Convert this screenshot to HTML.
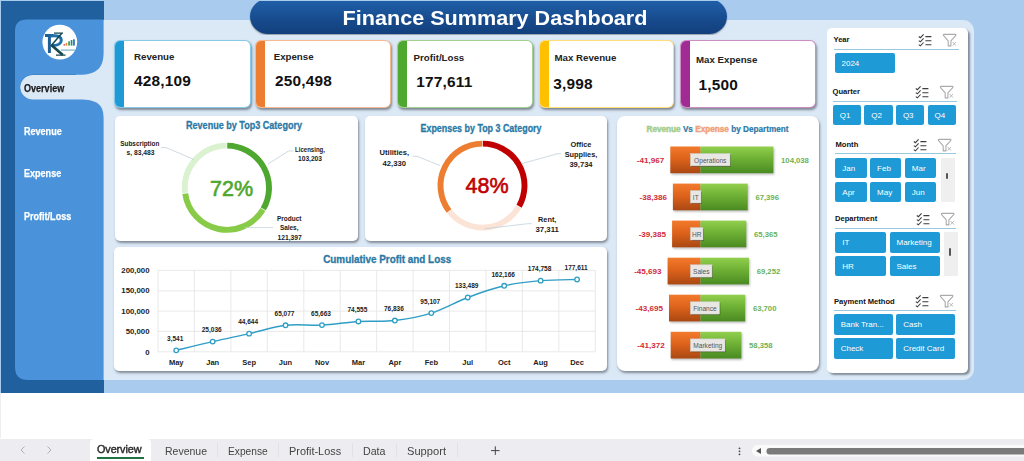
<!DOCTYPE html>
<html><head><meta charset="utf-8"><title>Finance Summary Dashboard</title>
<style>
*{box-sizing:border-box;margin:0;padding:0}
html,body{width:1024px;height:461px;overflow:hidden;background:#fff;font-family:"Liberation Sans",sans-serif;}
.abs{position:absolute}
#root{position:relative;width:1024px;height:461px;overflow:hidden;background:#fff}
.card{position:absolute;top:40px;height:68px;width:136.5px;background:#fff;border-radius:6px;border:1px solid #ccc;box-shadow:1px 2px 2.5px rgba(65,72,82,.6);overflow:hidden}
.card i{position:absolute;left:0;top:0;bottom:0;width:9px}
.card .l{position:absolute;left:19px;font-weight:bold;font-size:9.7px;color:#222;white-space:nowrap}
.card .v{position:absolute;left:19px;font-weight:bold;font-size:15.4px;color:#111;white-space:nowrap;letter-spacing:.2px}
.panel{position:absolute;background:#fff;border-radius:5px;box-shadow:1px 2px 2.5px rgba(65,72,82,.58)}
.t{position:absolute;white-space:nowrap;line-height:1}
.nav{position:absolute;left:23.5px;font-weight:bold;font-size:10.4px;color:#fff;white-space:nowrap;line-height:1;transform-origin:0 50%;transform:scaleX(.87);-webkit-text-stroke:.25px currentColor}
.sh{position:absolute;font-weight:bold;font-size:7.6px;color:#111;white-space:nowrap;line-height:1}
.sl{position:absolute;height:1.2px;background:#98c8dd}
.sb{position:absolute;background:#1e9ad6;border-radius:2px;color:#fff;font-size:8px;white-space:nowrap;line-height:1;}
.sb span{position:absolute;left:7px;top:50%;transform:translateY(-39%)}
.tab{position:absolute;top:445.6px;font-size:11.3px;color:#444;white-space:nowrap;line-height:1;transform-origin:0 50%}
</style></head><body><div id="root">

<div class="abs" style="left:0;top:0;width:1024px;height:393px;background:#a9cbee"></div>
<div class="abs" style="left:1px;top:1px;width:102.6px;height:392px;background:#20609f"></div>
<div class="abs" style="left:100px;top:19.5px;width:874px;height:360px;background:#dbe8f6;border-radius:0 11px 11px 0"></div>
<div class="abs" style="left:20px;top:74.5px;width:90px;height:25.2px;background:#dbe8f6;border-radius:13px 0 0 13px"></div>
<div class="abs" style="left:76px;top:50px;width:27.6px;height:80px;background:#dbe8f6"></div>
<svg class="abs" style="left:0;top:0" width="130" height="400" viewBox="0 0 130 400">
<defs><filter id="ss" x="-10%" y="-10%" width="130%" height="130%"><feGaussianBlur stdDeviation="1.2"/></filter></defs>
<path d="M15 31 Q15 19.5 27 19.5 L103.6 19.5 L103.6 52 C103.6 67 98 74.8 79 74.8 L32.5 74.8 A12.3 12.3 0 0 0 32.5 99.4 L79 99.4 C98 99.4 103.6 105 103.6 118 L103.6 380 L28 380 Q15 380 15 367 Z" fill="#4a92da"/>
</svg>
<svg class="abs" style="left:30px;top:15px" width="60" height="55" viewBox="30 15 60 55">
<circle cx="59.8" cy="42.1" r="17.4" fill="#fff"/>
<path d="M45 35.6 H53.5 M49.4 35.6 V53" stroke="#1d5f96" stroke-width="3" fill="none"/>
<path d="M50.5 36 Q61.5 34.5 61.3 40.5 Q61 45.5 52 45.5" stroke="#1f6fa8" stroke-width="2.9" fill="none"/>
<path d="M54 33.1 H63 M56 55.2 H65.5" stroke="#17474f" stroke-width="1.3" fill="none"/><path d="M61.8 33.3 L51.3 45.4" stroke="#17474f" stroke-width="1.5" fill="none"/><path d="M51.3 45 L62.8 55" stroke="#17474f" stroke-width="2.7" fill="none"/>
<rect x="63.6" y="44.2" width="1.3" height="1.4" fill="#d8342c"/>
<rect x="65.6" y="43" width="1.6" height="2.6" fill="#e98a2a"/>
<rect x="68.2" y="41.3" width="1.7" height="4.3" fill="#3c9a4c"/>
<rect x="70.7" y="40" width="1.7" height="5.6" fill="#238a8c"/>
<rect x="73.1" y="39.3" width="1.7" height="6.3" fill="#2a6cb0"/>
<rect x="61" y="49.3" width="14" height="1.6" fill="#9cc4d6"/>
</svg>
<div class="nav" style="top:83.5px;color:#1a1a1a">Overview</div>
<div class="nav" style="top:126.5px">Revenue</div>
<div class="nav" style="top:169px">Expense</div>
<div class="nav" style="top:211.5px">Profit/Loss</div>
<div class="abs" style="left:249px;top:1px;width:478.5px;height:34px;overflow:hidden"><div class="abs" style="left:.5px;top:-2.5px;width:477.5px;height:35px;border-radius:17.5px;background:linear-gradient(#1f5ea6 8%,#174a8c 62%,#123f7c);box-shadow:0 1px 1.5px rgba(0,0,0,.35)"></div></div>
<div class="t" style="left:255.6px;width:478px;top:7.8px;text-align:center;font-weight:bold;font-size:20.1px;color:#fff;transform:scaleX(1.075)">Finance Summary Dashboard</div>
<div class="card" style="left:114px;width:136.5px;border-color:#1e9ad688"><i style="background:#1e9ad6"></i><div class="l" style="left:19px;top:9.9px">Revenue</div><div class="v" style="left:19px;top:31px">428,109</div></div>
<div class="card" style="left:255px;width:136px;border-color:#ed7d3188"><i style="background:#ed7d31"></i><div class="l" style="left:17.7px;top:9.9px">Expense</div><div class="v" style="left:19px;top:31px">250,498</div></div>
<div class="card" style="left:397px;width:135.5px;border-color:#4ea72e88"><i style="background:#4ea72e"></i><div class="l" style="left:15.600000000000001px;top:10.5px">Profit/Loss</div><div class="v" style="left:18.3px;top:31.8px">177,611</div></div>
<div class="card" style="left:538.5px;width:135.5px;border-color:#ffc00088"><i style="background:#ffc000"></i><div class="l" style="left:15px;top:10.5px">Max Revenue</div><div class="v" style="left:13.7px;top:34px">3,998</div></div>
<div class="card" style="left:680px;width:135.5px;border-color:#a02b9388"><i style="background:#a02b93"></i><div class="l" style="left:15px;top:12.5px">Max Expense</div><div class="v" style="left:17.6px;top:35.3px">1,500</div></div>
<div class="panel" style="left:115px;top:115.5px;width:243px;height:125.5px"></div>
<div class="panel" style="left:365px;top:115.5px;width:242px;height:125.5px"></div>
<div class="panel" style="left:617px;top:116px;width:202px;height:254.5px;border-radius:8px"></div>
<div class="panel" style="left:114px;top:246.7px;width:493px;height:124px"></div>
<div class="panel" style="left:827px;top:28px;width:141px;height:345px;border-radius:5px;box-shadow:2px 2px 2px rgba(70,80,90,.6)"></div>
<svg class="abs" style="left:0;top:0" width="1024" height="461" viewBox="0 0 1024 461" font-family="Liberation Sans, sans-serif">
<defs>
<linearGradient id="go" x1="0" y1="0" x2="0" y2="1"><stop offset="0" stop-color="#f27a2c"/><stop offset=".45" stop-color="#de631b"/><stop offset="1" stop-color="#aa4813"/></linearGradient>
<linearGradient id="gg" x1="0" y1="0" x2="0" y2="1"><stop offset="0" stop-color="#92cf4d"/><stop offset=".45" stop-color="#6eb135"/><stop offset="1" stop-color="#4a8a22"/></linearGradient>
<filter id="bs" x="-10%" y="-10%" width="130%" height="140%"><feGaussianBlur stdDeviation="1"/></filter><filter id="bs2" x="-20%" y="-20%" width="150%" height="160%"><feGaussianBlur stdDeviation=".7"/></filter>
</defs>
<path d="M227.23 145.65 A42.1 42.1 0 0 1 263.31 208.89" stroke="#4ea72e" stroke-width="5.9" fill="none"/>
<path d="M262.97 209.46 A42.1 42.1 0 0 1 185.21 193.61" stroke="#88cb48" stroke-width="5.9" fill="none"/>
<path d="M185.12 192.95 A42.1 42.1 0 0 1 226.57 145.65" stroke="#daf2d0" stroke-width="5.9" fill="none"/>
<path d="M482.83 143.60 A42 42 0 0 1 519.10 206.20" stroke="#c00000" stroke-width="5.9" fill="none"/>
<path d="M518.77 206.78 A42 42 0 0 1 449.45 211.52" stroke="#fbe3d6" stroke-width="5.9" fill="none"/>
<path d="M449.05 211.00 A42 42 0 0 1 482.17 143.60" stroke="#ed7d31" stroke-width="5.9" fill="none"/>
<text x="231.5" y="196" text-anchor="middle" font-size="21.5" fill="#4ea72e" stroke="#4ea72e" stroke-width=".6">72%</text>
<text x="487" y="193" text-anchor="middle" font-size="21.5" fill="#c00000" stroke="#c00000" stroke-width=".6">48%</text>
<text x="244" y="128.8" text-anchor="middle" font-size="10.4" font-weight="bold" fill="#2a79a4" stroke="#2a79a4" stroke-width=".3" textLength="116" lengthAdjust="spacingAndGlyphs">Revenue by Top3 Category</text>
<text x="481" y="132.4" text-anchor="middle" font-size="10.4" font-weight="bold" fill="#2a79a4" stroke="#2a79a4" stroke-width=".3" textLength="121" lengthAdjust="spacingAndGlyphs">Expenses by Top 3 Category</text>
<text x="387.2" y="262.8" text-anchor="middle" font-size="10.3" font-weight="bold" fill="#2a79a4" stroke="#2a79a4" stroke-width=".3" textLength="128" lengthAdjust="spacingAndGlyphs">Cumulative Profit and Loss</text>
<text x="646.5" y="131.5" font-size="8.6" font-weight="bold" textLength="142" lengthAdjust="spacingAndGlyphs"><tspan fill="#a0cd8c" stroke="#a0cd8c" stroke-width=".45">Revenue</tspan><tspan fill="#2c78a8" stroke="#2c78a8" stroke-width=".2"> Vs </tspan><tspan fill="#f0a078" stroke="#f0a078" stroke-width=".45">Expense</tspan><tspan fill="#2c78a8" stroke="#2c78a8" stroke-width=".2"> by Department</tspan></text>
<text x="139.8" y="145.9" text-anchor="middle" font-size="7.5" font-weight="bold" fill="#1a1a1a" textLength="39" lengthAdjust="spacingAndGlyphs">Subscription</text>
<text x="140.5" y="154.8" text-anchor="middle" font-size="7.5" font-weight="bold" fill="#1a1a1a" textLength="28" lengthAdjust="spacingAndGlyphs">s, 83,483</text>
<text x="310" y="152.4" text-anchor="middle" font-size="7.5" font-weight="bold" fill="#1a1a1a" textLength="30" lengthAdjust="spacingAndGlyphs">Licensing,</text>
<text x="310" y="161.2" text-anchor="middle" font-size="7.5" font-weight="bold" fill="#1a1a1a" textLength="24" lengthAdjust="spacingAndGlyphs">103,203</text>
<text x="289.2" y="221.3" text-anchor="middle" font-size="7.5" font-weight="bold" fill="#1a1a1a" textLength="24.4" lengthAdjust="spacingAndGlyphs">Product</text>
<text x="289.2" y="230" text-anchor="middle" font-size="7.5" font-weight="bold" fill="#1a1a1a" textLength="18.6" lengthAdjust="spacingAndGlyphs">Sales,</text>
<text x="289.6" y="239.6" text-anchor="middle" font-size="7.5" font-weight="bold" fill="#1a1a1a" textLength="24.4" lengthAdjust="spacingAndGlyphs">121,397</text>
<text x="394.3" y="155.1" text-anchor="middle" font-size="7.5" font-weight="bold" fill="#1a1a1a" textLength="29.6" lengthAdjust="spacingAndGlyphs">Utilities,</text>
<text x="394.3" y="165.5" text-anchor="middle" font-size="7.5" font-weight="bold" fill="#1a1a1a" textLength="23.5" lengthAdjust="spacingAndGlyphs">42,330</text>
<text x="581" y="146.9" text-anchor="middle" font-size="7.5" font-weight="bold" fill="#1a1a1a" textLength="21" lengthAdjust="spacingAndGlyphs">Office</text>
<text x="581" y="156.8" text-anchor="middle" font-size="7.5" font-weight="bold" fill="#1a1a1a" textLength="32.7" lengthAdjust="spacingAndGlyphs">Supplies,</text>
<text x="581" y="167.4" text-anchor="middle" font-size="7.5" font-weight="bold" fill="#1a1a1a" textLength="23.2" lengthAdjust="spacingAndGlyphs">39,734</text>
<text x="547.2" y="221.7" text-anchor="middle" font-size="7.5" font-weight="bold" fill="#1a1a1a" textLength="18.3" lengthAdjust="spacingAndGlyphs">Rent,</text>
<text x="547.2" y="231.8" text-anchor="middle" font-size="7.5" font-weight="bold" fill="#1a1a1a" textLength="23.3" lengthAdjust="spacingAndGlyphs">37,311</text>
<path d="M161 147.6 L166 147.6 L194 159.5" stroke="#c3d0db" stroke-width=".8" fill="none"/>
<path d="M293.5 151 L288.5 151 L268 164" stroke="#c3d0db" stroke-width=".8" fill="none"/>
<path d="M273 227.6 L245 227.6" stroke="#c3d0db" stroke-width=".8" fill="none"/>
<path d="M412.5 156.3 L417 156.3 L440 165.5" stroke="#c3d0db" stroke-width=".8" fill="none"/>
<path d="M561 153.5 L557 153.8 L521.7 163.7" stroke="#c3d0db" stroke-width=".8" fill="none"/>
<path d="M531.7 223.7 L527.6 223.7 L484.6 228.8" stroke="#c3d0db" stroke-width=".8" fill="none"/>
<line x1="158" y1="351.8" x2="595.3" y2="351.8" stroke="#e3e3e3" stroke-width=".8"/>
<line x1="158" y1="331.4" x2="595.3" y2="331.4" stroke="#e3e3e3" stroke-width=".8"/>
<line x1="158" y1="311.1" x2="595.3" y2="311.1" stroke="#e3e3e3" stroke-width=".8"/>
<line x1="158" y1="290.8" x2="595.3" y2="290.8" stroke="#e3e3e3" stroke-width=".8"/>
<line x1="158" y1="270.4" x2="595.3" y2="270.4" stroke="#e3e3e3" stroke-width=".8"/>
<line x1="158.0" y1="270.4" x2="158.0" y2="351.8" stroke="#e3e3e3" stroke-width=".8"/>
<line x1="194.4" y1="270.4" x2="194.4" y2="351.8" stroke="#e3e3e3" stroke-width=".8"/>
<line x1="230.9" y1="270.4" x2="230.9" y2="351.8" stroke="#e3e3e3" stroke-width=".8"/>
<line x1="267.3" y1="270.4" x2="267.3" y2="351.8" stroke="#e3e3e3" stroke-width=".8"/>
<line x1="303.8" y1="270.4" x2="303.8" y2="351.8" stroke="#e3e3e3" stroke-width=".8"/>
<line x1="340.2" y1="270.4" x2="340.2" y2="351.8" stroke="#e3e3e3" stroke-width=".8"/>
<line x1="376.6" y1="270.4" x2="376.6" y2="351.8" stroke="#e3e3e3" stroke-width=".8"/>
<line x1="413.1" y1="270.4" x2="413.1" y2="351.8" stroke="#e3e3e3" stroke-width=".8"/>
<line x1="449.5" y1="270.4" x2="449.5" y2="351.8" stroke="#e3e3e3" stroke-width=".8"/>
<line x1="486.0" y1="270.4" x2="486.0" y2="351.8" stroke="#e3e3e3" stroke-width=".8"/>
<line x1="522.4" y1="270.4" x2="522.4" y2="351.8" stroke="#e3e3e3" stroke-width=".8"/>
<line x1="558.8" y1="270.4" x2="558.8" y2="351.8" stroke="#e3e3e3" stroke-width=".8"/>
<line x1="595.3" y1="270.4" x2="595.3" y2="351.8" stroke="#e3e3e3" stroke-width=".8"/>
<text x="149.5" y="354.5" text-anchor="end" font-size="7.8" font-weight="bold" fill="#222">0</text>
<text x="149.5" y="334.1" text-anchor="end" font-size="7.8" font-weight="bold" fill="#222">50,000</text>
<text x="149.5" y="313.8" text-anchor="end" font-size="7.8" font-weight="bold" fill="#222">100,000</text>
<text x="149.5" y="293.4" text-anchor="end" font-size="7.8" font-weight="bold" fill="#222">150,000</text>
<text x="149.5" y="273.1" text-anchor="end" font-size="7.8" font-weight="bold" fill="#222">200,000</text>
<path d="M176.22 350.36 C182.29 348.90 200.51 344.40 212.66 341.61 C224.81 338.82 236.95 336.35 249.10 333.63 C261.25 330.91 273.39 326.74 285.54 325.31 C297.69 323.89 309.83 325.72 321.98 325.08 C334.13 324.43 346.27 322.21 358.42 321.46 C370.57 320.70 382.71 321.92 394.86 320.53 C407.01 319.13 419.15 316.93 431.30 313.09 C443.45 309.25 455.59 302.02 467.74 297.47 C479.89 292.92 492.03 288.60 504.18 285.80 C516.33 283.00 528.47 281.72 540.62 280.67 C552.77 279.63 570.99 279.71 577.06 279.51" stroke="#2f9ec6" stroke-width="1.4" fill="none"/>
<circle cx="176.22" cy="350.36" r="2.3" fill="#fff" stroke="#2f9ec6" stroke-width="1.3"/>
<text x="175.2" y="341.1" text-anchor="middle" font-size="6.5" font-weight="bold" fill="#222">3,541</text>
<text x="176.2" y="365" text-anchor="middle" font-size="7.5" font-weight="bold" fill="#222">May</text>
<circle cx="212.66" cy="341.61" r="2.3" fill="#fff" stroke="#2f9ec6" stroke-width="1.3"/>
<text x="211.7" y="332.3" text-anchor="middle" font-size="6.5" font-weight="bold" fill="#222">25,036</text>
<text x="212.7" y="365" text-anchor="middle" font-size="7.5" font-weight="bold" fill="#222">Jan</text>
<circle cx="249.10" cy="333.63" r="2.3" fill="#fff" stroke="#2f9ec6" stroke-width="1.3"/>
<text x="248.1" y="324.3" text-anchor="middle" font-size="6.5" font-weight="bold" fill="#222">44,644</text>
<text x="249.1" y="365" text-anchor="middle" font-size="7.5" font-weight="bold" fill="#222">Sep</text>
<circle cx="285.54" cy="325.31" r="2.3" fill="#fff" stroke="#2f9ec6" stroke-width="1.3"/>
<text x="284.5" y="316.0" text-anchor="middle" font-size="6.5" font-weight="bold" fill="#222">65,077</text>
<text x="285.5" y="365" text-anchor="middle" font-size="7.5" font-weight="bold" fill="#222">Jun</text>
<circle cx="321.98" cy="325.08" r="2.3" fill="#fff" stroke="#2f9ec6" stroke-width="1.3"/>
<text x="321.0" y="315.8" text-anchor="middle" font-size="6.5" font-weight="bold" fill="#222">65,663</text>
<text x="322.0" y="365" text-anchor="middle" font-size="7.5" font-weight="bold" fill="#222">Nov</text>
<circle cx="358.42" cy="321.46" r="2.3" fill="#fff" stroke="#2f9ec6" stroke-width="1.3"/>
<text x="357.4" y="312.2" text-anchor="middle" font-size="6.5" font-weight="bold" fill="#222">74,555</text>
<text x="358.4" y="365" text-anchor="middle" font-size="7.5" font-weight="bold" fill="#222">Mar</text>
<circle cx="394.86" cy="320.53" r="2.3" fill="#fff" stroke="#2f9ec6" stroke-width="1.3"/>
<text x="393.9" y="311.2" text-anchor="middle" font-size="6.5" font-weight="bold" fill="#222">76,836</text>
<text x="394.9" y="365" text-anchor="middle" font-size="7.5" font-weight="bold" fill="#222">Apr</text>
<circle cx="431.30" cy="313.09" r="2.3" fill="#fff" stroke="#2f9ec6" stroke-width="1.3"/>
<text x="430.3" y="303.8" text-anchor="middle" font-size="6.5" font-weight="bold" fill="#222">95,107</text>
<text x="431.3" y="365" text-anchor="middle" font-size="7.5" font-weight="bold" fill="#222">Feb</text>
<circle cx="467.74" cy="297.47" r="2.3" fill="#fff" stroke="#2f9ec6" stroke-width="1.3"/>
<text x="466.7" y="288.2" text-anchor="middle" font-size="6.5" font-weight="bold" fill="#222">133,489</text>
<text x="467.7" y="365" text-anchor="middle" font-size="7.5" font-weight="bold" fill="#222">Jul</text>
<circle cx="504.18" cy="285.80" r="2.3" fill="#fff" stroke="#2f9ec6" stroke-width="1.3"/>
<text x="503.2" y="276.5" text-anchor="middle" font-size="6.5" font-weight="bold" fill="#222">162,166</text>
<text x="504.2" y="365" text-anchor="middle" font-size="7.5" font-weight="bold" fill="#222">Oct</text>
<circle cx="540.62" cy="280.67" r="2.3" fill="#fff" stroke="#2f9ec6" stroke-width="1.3"/>
<text x="539.6" y="271.4" text-anchor="middle" font-size="6.5" font-weight="bold" fill="#222">174,758</text>
<text x="540.6" y="365" text-anchor="middle" font-size="7.5" font-weight="bold" fill="#222">Aug</text>
<circle cx="577.06" cy="279.51" r="2.3" fill="#fff" stroke="#2f9ec6" stroke-width="1.3"/>
<text x="576.1" y="270.2" text-anchor="middle" font-size="6.5" font-weight="bold" fill="#222">177,611</text>
<text x="577.1" y="365" text-anchor="middle" font-size="7.5" font-weight="bold" fill="#222">Dec</text>
<rect x="671.3" y="148.0" width="103.1" height="26.7" fill="#000" opacity=".25" filter="url(#bs)"/>
<rect x="670.3" y="146.5" width="30.2" height="26.7" fill="url(#go)"/>
<rect x="700.5" y="146.5" width="72.9" height="26.7" fill="url(#gg)"/>
<rect x="691.3" y="154.6" width="39.5" height="12.3" fill="#000" opacity=".4" filter="url(#bs2)"/>
<rect x="690.5" y="153.6" width="39.5" height="12.3" fill="#e9e7e4" stroke="#d0cdc8" stroke-width=".6"/>
<text x="710.25" y="162.5" text-anchor="middle" font-size="6.6" fill="#555">Operations</text>
<text x="664.3" y="162.7" text-anchor="end" font-size="8.1" font-weight="bold" fill="#d22c39">-41,967</text>
<text x="781.1" y="162.7" font-size="7.7" font-weight="bold" fill="#6bb257">104,038</text>
<rect x="673.9" y="185.1" width="74.9" height="26.7" fill="#000" opacity=".25" filter="url(#bs)"/>
<rect x="672.9" y="183.6" width="27.6" height="26.7" fill="url(#go)"/>
<rect x="700.5" y="183.6" width="47.2" height="26.7" fill="url(#gg)"/>
<rect x="691.3" y="191.7" width="10.5" height="12.3" fill="#000" opacity=".4" filter="url(#bs2)"/>
<rect x="690.5" y="190.7" width="10.5" height="12.3" fill="#e9e7e4" stroke="#d0cdc8" stroke-width=".6"/>
<text x="695.75" y="199.6" text-anchor="middle" font-size="6.6" fill="#555">IT</text>
<text x="666.9" y="199.8" text-anchor="end" font-size="8.1" font-weight="bold" fill="#d22c39">-38,386</text>
<text x="755.4" y="199.8" font-size="7.7" font-weight="bold" fill="#6bb257">67,396</text>
<rect x="673.1" y="222.1" width="74.2" height="26.7" fill="#000" opacity=".25" filter="url(#bs)"/>
<rect x="672.1" y="220.6" width="28.4" height="26.7" fill="url(#go)"/>
<rect x="700.5" y="220.6" width="45.8" height="26.7" fill="url(#gg)"/>
<rect x="691.3" y="228.7" width="12.5" height="12.3" fill="#000" opacity=".4" filter="url(#bs2)"/>
<rect x="690.5" y="227.7" width="12.5" height="12.3" fill="#e9e7e4" stroke="#d0cdc8" stroke-width=".6"/>
<text x="696.75" y="236.6" text-anchor="middle" font-size="6.6" fill="#555">HR</text>
<text x="666.1" y="236.8" text-anchor="end" font-size="8.1" font-weight="bold" fill="#d22c39">-39,385</text>
<text x="754.0" y="236.8" font-size="7.7" font-weight="bold" fill="#6bb257">65,365</text>
<rect x="668.6" y="259.2" width="81.4" height="26.7" fill="#000" opacity=".25" filter="url(#bs)"/>
<rect x="667.6" y="257.7" width="32.9" height="26.7" fill="url(#go)"/>
<rect x="700.5" y="257.7" width="48.5" height="26.7" fill="url(#gg)"/>
<rect x="691.3" y="265.8" width="21.5" height="12.3" fill="#000" opacity=".4" filter="url(#bs2)"/>
<rect x="690.5" y="264.8" width="21.5" height="12.3" fill="#e9e7e4" stroke="#d0cdc8" stroke-width=".6"/>
<text x="701.25" y="273.7" text-anchor="middle" font-size="6.6" fill="#555">Sales</text>
<text x="661.6" y="273.9" text-anchor="end" font-size="8.1" font-weight="bold" fill="#d22c39">-45,693</text>
<text x="756.7" y="273.9" font-size="7.7" font-weight="bold" fill="#6bb257">69,252</text>
<rect x="670.0" y="296.2" width="76.1" height="26.7" fill="#000" opacity=".25" filter="url(#bs)"/>
<rect x="669.0" y="294.7" width="31.5" height="26.7" fill="url(#go)"/>
<rect x="700.5" y="294.7" width="44.7" height="26.7" fill="url(#gg)"/>
<rect x="691.3" y="302.8" width="29" height="12.3" fill="#000" opacity=".4" filter="url(#bs2)"/>
<rect x="690.5" y="301.8" width="29" height="12.3" fill="#e9e7e4" stroke="#d0cdc8" stroke-width=".6"/>
<text x="705.0" y="310.7" text-anchor="middle" font-size="6.6" fill="#555">Finance</text>
<text x="663.0" y="310.9" text-anchor="end" font-size="8.1" font-weight="bold" fill="#d22c39">-43,695</text>
<text x="752.9" y="310.9" font-size="7.7" font-weight="bold" fill="#6bb257">63,700</text>
<rect x="671.7" y="333.3" width="70.7" height="26.7" fill="#000" opacity=".25" filter="url(#bs)"/>
<rect x="670.7" y="331.8" width="29.8" height="26.7" fill="url(#go)"/>
<rect x="700.5" y="331.8" width="40.9" height="26.7" fill="url(#gg)"/>
<rect x="691.3" y="339.9" width="34.5" height="12.3" fill="#000" opacity=".4" filter="url(#bs2)"/>
<rect x="690.5" y="338.9" width="34.5" height="12.3" fill="#e9e7e4" stroke="#d0cdc8" stroke-width=".6"/>
<text x="707.75" y="347.8" text-anchor="middle" font-size="6.6" fill="#555">Marketing</text>
<text x="664.7" y="348.0" text-anchor="end" font-size="8.1" font-weight="bold" fill="#d22c39">-41,372</text>
<text x="749.1" y="348.0" font-size="7.7" font-weight="bold" fill="#6bb257">58,358</text>
</svg>
<div class="sh" style="left:833.5px;top:35.900000000000006px">Year</div>
<div class="sl" style="left:834px;width:125px;top:48.5px"></div>
<svg class="abs" style="left:917.5px;top:32.7px" width="42" height="14" viewBox="0 0 42 14">
<g stroke="#3c3c3c" stroke-width="1.05" fill="none"><path d="M0.8 3.5 L2.4 4.7 L5.6 1.3 M0.8 7.6 L2.4 8.8 L5.6 5.4 M0.8 11.7 L2.4 12.9 L5.6 9.5"/><path d="M7.4 3.6 H13.4 M7.4 7.7 H13.4 M7.4 11.8 H13.4"/></g>
<g stroke="#ababab" stroke-width="1.1" fill="none" stroke-linejoin="round"><path d="M26 1.4 H37.3 Q38.4 1.6 37.7 2.7 L32.9 7.8 V12.9 L30.2 12.9 V7.8 L25.6 2.7 Q24.9 1.6 26 1.4 Z"/><path d="M34.6 9 L38 12.6 M38 9 L34.6 12.6" stroke-width=".8"/></g>
</svg>
<div class="sb" style="left:834.5px;top:52.8px;width:60.5px;height:20.5px"><span style="left:7px">2024</span></div>
<div class="sh" style="left:832.5px;top:88.0px">Quarter</div>
<div class="sl" style="left:832.5px;width:124.5px;top:100.5px"></div>
<svg class="abs" style="left:915.3px;top:84.8px" width="42" height="14" viewBox="0 0 42 14">
<g stroke="#3c3c3c" stroke-width="1.05" fill="none"><path d="M0.8 3.5 L2.4 4.7 L5.6 1.3 M0.8 7.6 L2.4 8.8 L5.6 5.4 M0.8 11.7 L2.4 12.9 L5.6 9.5"/><path d="M7.4 3.6 H13.4 M7.4 7.7 H13.4 M7.4 11.8 H13.4"/></g>
<g stroke="#ababab" stroke-width="1.1" fill="none" stroke-linejoin="round"><path d="M26 1.4 H37.3 Q38.4 1.6 37.7 2.7 L32.9 7.8 V12.9 L30.2 12.9 V7.8 L25.6 2.7 Q24.9 1.6 26 1.4 Z"/><path d="M34.6 9 L38 12.6 M38 9 L34.6 12.6" stroke-width=".8"/></g>
</svg>
<div class="sb" style="left:832.7px;top:104.8px;width:28.4px;height:20.2px"><span style="left:7px">Q1</span></div>
<div class="sb" style="left:864.3000000000001px;top:104.8px;width:28.4px;height:20.2px"><span style="left:7px">Q2</span></div>
<div class="sb" style="left:895.9000000000001px;top:104.8px;width:28.4px;height:20.2px"><span style="left:7px">Q3</span></div>
<div class="sb" style="left:927.5px;top:104.8px;width:28.4px;height:20.2px"><span style="left:7px">Q4</span></div>
<div class="sh" style="left:835.5px;top:140.7px">Month</div>
<div class="sl" style="left:835px;width:121px;top:153px"></div>
<svg class="abs" style="left:913.4px;top:137.5px" width="42" height="14" viewBox="0 0 42 14">
<g stroke="#3c3c3c" stroke-width="1.05" fill="none"><path d="M0.8 3.5 L2.4 4.7 L5.6 1.3 M0.8 7.6 L2.4 8.8 L5.6 5.4 M0.8 11.7 L2.4 12.9 L5.6 9.5"/><path d="M7.4 3.6 H13.4 M7.4 7.7 H13.4 M7.4 11.8 H13.4"/></g>
<g stroke="#ababab" stroke-width="1.1" fill="none" stroke-linejoin="round"><path d="M26 1.4 H37.3 Q38.4 1.6 37.7 2.7 L32.9 7.8 V12.9 L30.2 12.9 V7.8 L25.6 2.7 Q24.9 1.6 26 1.4 Z"/><path d="M34.6 9 L38 12.6 M38 9 L34.6 12.6" stroke-width=".8"/></g>
</svg>
<div class="sb" style="left:835.3px;top:158.1px;width:31.3px;height:20px"><span style="left:7px">Jan</span></div>
<div class="sb" style="left:870.05px;top:158.1px;width:31.3px;height:20px"><span style="left:7px">Feb</span></div>
<div class="sb" style="left:904.8px;top:158.1px;width:31.3px;height:20px"><span style="left:7px">Mar</span></div>
<div class="sb" style="left:835.3px;top:181.79999999999998px;width:31.3px;height:20px"><span style="left:7px">Apr</span></div>
<div class="sb" style="left:870.05px;top:181.79999999999998px;width:31.3px;height:20px"><span style="left:7px">May</span></div>
<div class="sb" style="left:904.8px;top:181.79999999999998px;width:31.3px;height:20px"><span style="left:7px">Jun</span></div>
<div class="abs" style="left:941px;top:158px;width:14px;height:44px;background:#efefef"></div>
<div class="abs" style="left:946px;top:173.2px;width:2.2px;height:5.4px;background:#555;border-radius:1px"></div>
<div class="sh" style="left:835px;top:215.39999999999998px">Department</div>
<div class="sl" style="left:835px;width:121px;top:228px"></div>
<svg class="abs" style="left:915.8px;top:212.2px" width="42" height="14" viewBox="0 0 42 14">
<g stroke="#3c3c3c" stroke-width="1.05" fill="none"><path d="M0.8 3.5 L2.4 4.7 L5.6 1.3 M0.8 7.6 L2.4 8.8 L5.6 5.4 M0.8 11.7 L2.4 12.9 L5.6 9.5"/><path d="M7.4 3.6 H13.4 M7.4 7.7 H13.4 M7.4 11.8 H13.4"/></g>
<g stroke="#ababab" stroke-width="1.1" fill="none" stroke-linejoin="round"><path d="M26 1.4 H37.3 Q38.4 1.6 37.7 2.7 L32.9 7.8 V12.9 L30.2 12.9 V7.8 L25.6 2.7 Q24.9 1.6 26 1.4 Z"/><path d="M34.6 9 L38 12.6 M38 9 L34.6 12.6" stroke-width=".8"/></g>
</svg>
<div class="sb" style="left:835.3px;top:232.3px;width:50.5px;height:20.3px"><span style="left:7px">IT</span></div>
<div class="sb" style="left:889.5px;top:232.3px;width:50.5px;height:20.3px"><span style="left:7px">Marketing</span></div>
<div class="sb" style="left:835.3px;top:256.2px;width:50.5px;height:20.3px"><span style="left:7px">HR</span></div>
<div class="sb" style="left:889.5px;top:256.2px;width:50.5px;height:20.3px"><span style="left:7px">Sales</span></div>
<div class="abs" style="left:944px;top:232.3px;width:14px;height:44.2px;background:#efefef"></div>
<div class="abs" style="left:949.2px;top:248px;width:2px;height:7.7px;background:#555;border-radius:1px"></div>
<div class="sh" style="left:834px;top:297.5px">Payment Method</div>
<div class="sl" style="left:834px;width:122px;top:310px"></div>
<svg class="abs" style="left:915.2px;top:294.3px" width="42" height="14" viewBox="0 0 42 14">
<g stroke="#3c3c3c" stroke-width="1.05" fill="none"><path d="M0.8 3.5 L2.4 4.7 L5.6 1.3 M0.8 7.6 L2.4 8.8 L5.6 5.4 M0.8 11.7 L2.4 12.9 L5.6 9.5"/><path d="M7.4 3.6 H13.4 M7.4 7.7 H13.4 M7.4 11.8 H13.4"/></g>
<g stroke="#ababab" stroke-width="1.1" fill="none" stroke-linejoin="round"><path d="M26 1.4 H37.3 Q38.4 1.6 37.7 2.7 L32.9 7.8 V12.9 L30.2 12.9 V7.8 L25.6 2.7 Q24.9 1.6 26 1.4 Z"/><path d="M34.6 9 L38 12.6 M38 9 L34.6 12.6" stroke-width=".8"/></g>
</svg>
<div class="sb" style="left:833.7px;top:314.3px;width:59px;height:20.3px"><span style="left:7px">Bank Tran...</span></div>
<div class="sb" style="left:896.2px;top:314.3px;width:59px;height:20.3px"><span style="left:7px">Cash</span></div>
<div class="sb" style="left:833.7px;top:338.3px;width:59px;height:20.3px"><span style="left:7px">Check</span></div>
<div class="sb" style="left:896.2px;top:338.3px;width:59px;height:20.3px"><span style="left:7px">Credit Card</span></div>
<div class="abs" style="left:0;top:393px;width:1px;height:45px;background:#eee"></div>
<div class="abs" style="left:0;top:438.5px;width:1024px;height:23px;background:#ededf1"></div>
<div class="abs" style="left:90px;top:438.5px;width:61px;height:23px;background:#fff;border-radius:4px 4px 0 0"></div>
<div class="abs" style="left:97px;top:457.3px;width:47px;height:1.6px;background:#217346"></div>
<div class="tab" style="left:96.7px;top:443px;color:#2b2b2b;font-size:11.6px;letter-spacing:-.1px;-webkit-text-stroke:.45px #2b2b2b;transform:scaleX(.935)">Overview</div>
<div class="tab" style="left:164.6px;transform:scaleX(0.929)">Revenue</div>
<div class="tab" style="left:228.1px;transform:scaleX(0.903)">Expense</div>
<div class="tab" style="left:289.3px;transform:scaleX(0.965)">Profit-Loss</div>
<div class="tab" style="left:363.4px;transform:scaleX(0.943)">Data</div>
<div class="tab" style="left:407.4px;transform:scaleX(0.985)">Support</div>
<div class="abs" style="left:217px;top:443px;width:1px;height:14px;background:#e1e1e6"></div>
<div class="abs" style="left:278px;top:443px;width:1px;height:14px;background:#e1e1e6"></div>
<div class="abs" style="left:352px;top:443px;width:1px;height:14px;background:#e1e1e6"></div>
<div class="abs" style="left:396px;top:443px;width:1px;height:14px;background:#e1e1e6"></div>
<div class="abs" style="left:457px;top:443px;width:1px;height:14px;background:#e1e1e6"></div>
<svg class="abs" style="left:0;top:438px" width="1024" height="23" viewBox="0 0 1024 23">
<path d="M24.5 8.5 L21 12 L24.5 15.5 M47.5 8.5 L51 12 L47.5 15.5" stroke="#b0b0b0" stroke-width="1" fill="none"/>
<path d="M491 12.6 H499.6 M495.3 8.3 V16.9" stroke="#444" stroke-width="1"/>
<circle cx="739.5" cy="10.3" r=".9" fill="#444"/><circle cx="739.5" cy="13.3" r=".9" fill="#444"/><circle cx="739.5" cy="16.3" r=".9" fill="#444"/>
<rect x="752" y="7" width="280" height="11.5" rx="5.7" fill="#fafafa"/>
<path d="M761 10 L756 13 L761 16 Z" fill="#555"/>
<rect x="766.5" y="10" width="270" height="6.5" rx="3.2" fill="#7a7a7a"/>
</svg>
</div></body></html>
